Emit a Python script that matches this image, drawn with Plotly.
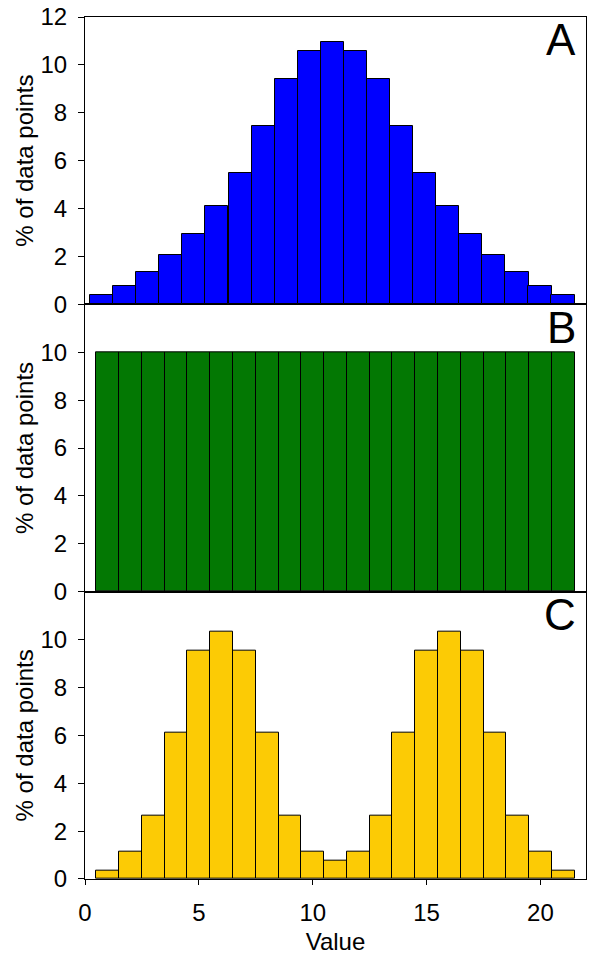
import plotly.graph_objects as go

# ---- data ----
x_ab = list(range(1, 22))  # bin centres for panels B and C
x_a = [0.73, 1.74, 2.75, 3.77, 4.78, 5.79, 6.81, 7.82, 8.83, 9.85, 10.86,
       11.87, 12.89, 13.90, 14.91, 15.93, 16.94, 17.95, 18.97, 19.98, 20.99]
vals_a = [0.39, 0.78, 1.36, 2.06, 2.93, 4.10, 5.49, 7.44, 9.41, 10.58, 10.97,
          10.58, 9.41, 7.44, 5.49, 4.10, 2.93, 2.06, 1.36, 0.78, 0.39]
vals_b = [10.0] * 21
vals_c = [0.36, 1.13, 2.66, 6.11, 9.55, 10.32, 9.55, 6.11, 2.66, 1.13, 0.75,
          1.13, 2.66, 6.11, 9.55, 10.32, 9.55, 6.11, 2.66, 1.13, 0.36]
x_ticks = [0, 5, 10, 15, 20]
y_ticks_a = [0, 2, 4, 6, 8, 10, 12]
y_ticks_bc = [0, 2, 4, 6, 8, 10]
panel_labels = ["A", "B", "C"]
y_title = "% of data points"
x_title = "Value"

FONT = "Arial, Liberation Sans, sans-serif"

fig = go.Figure()
fig.add_trace(go.Bar(x=x_a, y=vals_a, width=1.013, xaxis="x3", yaxis="y",
                     marker=dict(color="#0000FF", line=dict(color="#000000", width=1))))
fig.add_trace(go.Bar(x=x_ab, y=vals_b, width=1.0, xaxis="x2", yaxis="y2",
                     marker=dict(color="#037803", line=dict(color="#000000", width=1))))
fig.add_trace(go.Bar(x=x_ab, y=vals_c, width=1.0, xaxis="x", yaxis="y3",
                     marker=dict(color="#FCCB05", line=dict(color="#000000", width=1))))

tickfont = dict(family=FONT, size=24, color="black")
common_y = dict(range=[0, 12], showline=True, linecolor="black", linewidth=1,
                mirror=True, ticks="outside", ticklen=6, tickcolor="black",
                tickfont=tickfont, showgrid=False, zeroline=False, automargin=False,
                ticklabeloverflow="allow",
                title=dict(text=y_title, font=dict(family=FONT, size=24, color="black"),
                           standoff=0),
                ticklabelstandoff=6)
common_x = dict(range=[0, 22], showline=True, linecolor="black", linewidth=1,
                mirror=True, showgrid=False, zeroline=False, automargin=False)

fig.update_layout(
    template="none",
    width=600, height=959,
    margin=dict(l=85, r=14, t=17, b=80),
    paper_bgcolor="white", plot_bgcolor="white",
    showlegend=False, bargap=0,
    font=dict(family=FONT, color="black"),
    xaxis=dict(**common_x, anchor="y3", ticks="outside", ticklen=5, tickcolor="black",
               tickvals=x_ticks, tickfont=tickfont, ticklabelstandoff=7,
               title=dict(text=x_title, font=dict(family=FONT, size=24, color="black"),
                          standoff=8)),
    xaxis2=dict(**common_x, anchor="y2", matches="x", showticklabels=False, ticks=""),
    xaxis3=dict(**common_x, anchor="y", matches="x", showticklabels=False, ticks=""),
    yaxis=dict(**common_y, domain=[2/3, 1], anchor="x3", tickvals=y_ticks_a),
    yaxis2=dict(**common_y, domain=[1/3, 2/3], anchor="x2", tickvals=y_ticks_bc),
    yaxis3=dict(**common_y, domain=[0, 1/3], anchor="x", tickvals=y_ticks_bc),
)

for lab, yref in zip(panel_labels, ["y domain", "y2 domain", "y3 domain"]):
    fig.add_annotation(text=lab, xref="paper", yref=yref, x=0.984, y=0.92,
                       xanchor="right", yanchor="middle", showarrow=False,
                       font=dict(family=FONT, size=44, color="black"))

# remove the default 8px page margin so the 600x959 figure fills the window exactly
fig.write_html("out.html", config={"displayModeBar": False},
               post_script="document.body.style.margin='0px';")
